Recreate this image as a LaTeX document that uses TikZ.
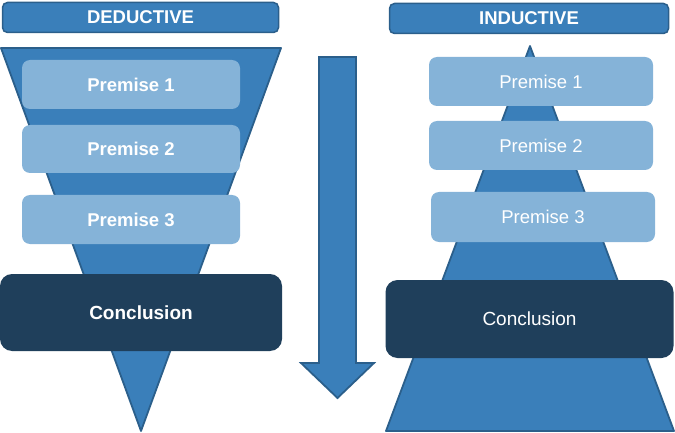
\documentclass[tikz,border=0pt]{standalone}
\usepackage{fontspec}
\setmainfont{Liberation Sans}
\definecolor{mainblue}{HTML}{3A7FBA}
\definecolor{edgeblue}{HTML}{2B5F8B}
\definecolor{lightblue}{HTML}{85B3D8}
\definecolor{darkblue}{HTML}{1F3F5B}
\tikzset{
  header/.style={draw=edgeblue, line width=1.5pt, fill=mainblue, rounded corners=5pt,
    text=white, inner sep=0pt, font=\bfseries\fontsize{18.5}{20}\selectfont},
  premise/.style={fill=lightblue, rounded corners=8pt, text=white, inner sep=0pt,
    font=\fontsize{18.5}{20}\selectfont},
  concl/.style={fill=darkblue, rounded corners=12pt, text=white, inner sep=0pt,
    font=\fontsize{19}{21}\selectfont},
  bold/.style={font=\bfseries\fontsize{18.5}{20}\selectfont},
  funnel/.style={draw=edgeblue, line width=1.8pt, fill=mainblue, line join=round}
}
\begin{document}
\begin{tikzpicture}[x=1pt,y=-1pt]
\useasboundingbox (0,0) rectangle (675,433);
% headers
\node[header, minimum width=276pt, minimum height=30pt] (hded) at (140.5,17.5) {DEDUCTIVE};
\node[header, minimum width=279pt, minimum height=30pt] (hind) at (529,18.5) {INDUCTIVE};
% shapes
\draw[funnel] (1,48) -- (281,48) -- (141,431) -- cycle;
\draw[funnel] (530,46) -- (674,431) -- (386,431) -- cycle;
\draw[funnel, line join=miter] (319,57) -- (356,57) -- (356,363) -- (374,363) -- (337.5,398) -- (301,363) -- (319,363) -- cycle;
% deductive boxes
\node[premise, bold, minimum width=218pt, minimum height=49pt] (dp1) at (131,84.5) {Premise 1};
\node[premise, bold, minimum width=218pt, minimum height=48pt] (dp2) at (131,149) {Premise 2};
\node[premise, bold, minimum width=218pt, minimum height=49pt] (dp3) at (131,219.5) {Premise 3};
\node[concl, font=\bfseries\fontsize{19}{21}\selectfont, minimum width=282pt, minimum height=77pt] (dc) at (141,312.5) {Conclusion};
% inductive boxes
\node[premise, minimum width=224pt, minimum height=49pt] (ip1) at (541,81.5) {Premise 1};
\node[premise, minimum width=224pt, minimum height=49pt] (ip2) at (541,145.5) {Premise 2};
\node[premise, minimum width=224pt, minimum height=50pt] (ip3) at (543,217) {Premise 3};
\node[concl, minimum width=288pt, minimum height=78pt] (ic) at (529.5,319) {Conclusion};
\end{tikzpicture}
\end{document}
